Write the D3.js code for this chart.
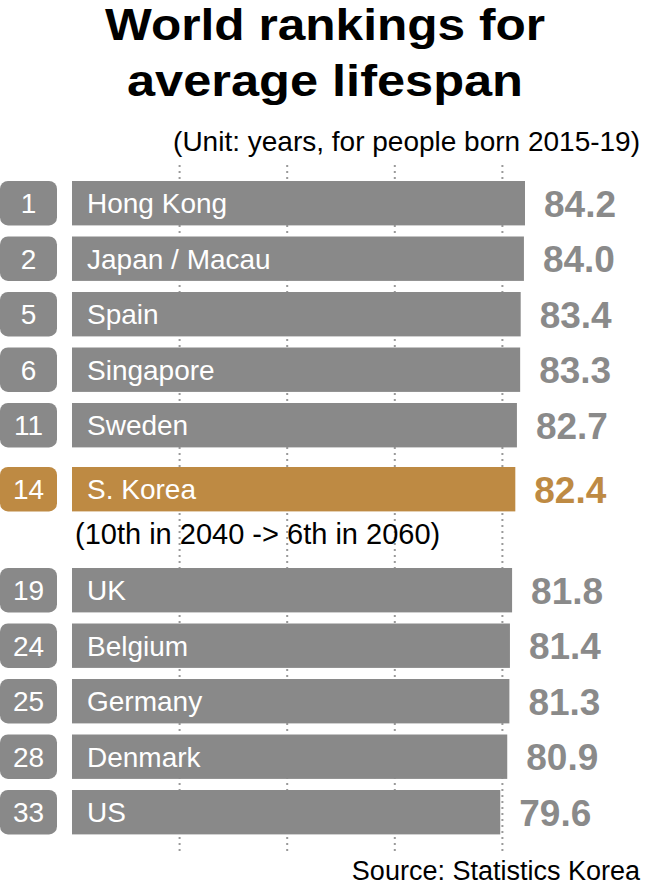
<!DOCTYPE html>
<html>
<head>
<meta charset="utf-8">
<script src="https://cdnjs.cloudflare.com/ajax/libs/d3/7.8.5/d3.min.js"></script>
<style>
  html, body { margin: 0; padding: 0; background: #fff; }
  svg { display: block; font-family: "Liberation Sans", Arial, Helvetica, sans-serif; }
</style>
</head>
<body>
<div id="chart"></div>
<script>
// chart data
var ranks = [1, 2, 5, 6, 11, 14, 19, 24, 25, 28, 33];
var countries = ['Hong Kong', 'Japan / Macau', 'Spain', 'Singapore', 'Sweden', 'S. Korea', 'UK', 'Belgium', 'Germany', 'Denmark', 'US'];
var lifespans = [84.2, 84.0, 83.4, 83.3, 82.7, 82.4, 81.8, 81.4, 81.3, 80.9, 79.6];
var gridTicks = [20, 40, 60, 80];
var highlight = 'S. Korea';

var width = 650, height = 887;
var grey = '#898989', gold = '#be8a43';
var pitch = 55.5, pad = 0.2;

var svg = d3.select('#chart').append('svg')
    .attr('width', width)
    .attr('height', height);

// title
svg.append('text')
    .attr('x', 325).attr('y', 40)
    .attr('text-anchor', 'middle')
    .attr('textLength', 440).attr('lengthAdjust', 'spacingAndGlyphs')
    .style('font-size', '44px').style('font-weight', 'bold')
    .text('World rankings for');
svg.append('text')
    .attr('x', 325).attr('y', 96)
    .attr('text-anchor', 'middle')
    .attr('textLength', 396).attr('lengthAdjust', 'spacingAndGlyphs')
    .style('font-size', '44px').style('font-weight', 'bold')
    .text('average lifespan');

svg.append('text')
    .attr('x', 640).attr('y', 151)
    .attr('text-anchor', 'end')
    .style('font-size', '28px')
    .text('(Unit: years, for people born 2015-19)');

var x = d3.scaleLinear().domain([0, 100]).range([72, 610]);

var yBand = d3.scaleBand()
    .domain(countries)
    .range([181, 181 + pitch * (countries.length - pad)])
    .paddingInner(pad)
    .paddingOuter(0);

var kIdx = countries.indexOf(highlight);
// extra room around the highlighted row for the note under it
var y = function(d) {
    var i = countries.indexOf(d);
    var off = 0;
    if (i === kIdx) off = 8.5;
    else if (i > kIdx) off = 54;
    return yBand(d) + off;
};
var bh = yBand.bandwidth();

// dotted gridlines
svg.append('g').selectAll('line')
    .data(gridTicks)
    .join('line')
    .attr('x1', function(d) { return x(d); })
    .attr('x2', function(d) { return x(d); })
    .attr('y1', 165)
    .attr('y2', 852)
    .attr('stroke', '#9a9a9a')
    .attr('stroke-width', 2)
    .attr('stroke-dasharray', '2,4');

var rows = svg.append('g').selectAll('g')
    .data(countries)
    .join('g')
    .attr('transform', function(d) { return 'translate(0,' + y(d) + ')'; });

var colorOf = function(d) { return d === highlight ? gold : grey; };

rows.append('rect')
    .attr('x', 0).attr('y', 0)
    .attr('width', 57).attr('height', bh)
    .attr('rx', 8).attr('ry', 8)
    .attr('fill', colorOf);

rows.append('text')
    .attr('x', 28.5).attr('y', bh / 2)
    .attr('dy', '0.35em')
    .attr('text-anchor', 'middle')
    .attr('fill', '#fff')
    .style('font-size', '28px')
    .text(function(d, i) { return ranks[i]; });

rows.append('rect')
    .attr('x', x(0)).attr('y', 0)
    .attr('width', function(d, i) { return x(lifespans[i]) - x(0); })
    .attr('height', bh)
    .attr('fill', colorOf);

rows.append('text')
    .attr('x', 87).attr('y', bh / 2)
    .attr('dy', '0.35em')
    .attr('fill', '#fff')
    .style('font-size', '28px')
    .text(function(d) { return d; });

rows.append('text')
    .attr('x', function(d, i) { return x(lifespans[i]) + 19; })
    .attr('y', bh / 2)
    .attr('dy', '0.36em')
    .attr('fill', function(d) { return d === highlight ? gold : '#8a8a8a'; })
    .style('font-size', '37px').style('font-weight', 'bold')
    .text(function(d, i) { return lifespans[i].toFixed(1); });

// note under S. Korea
svg.append('text')
    .attr('x', 75).attr('y', y(highlight) + bh + 33)
    .style('font-size', '29px')
    .text('(10th in 2040 -> 6th in 2060)');

svg.append('text')
    .attr('x', 640).attr('y', 880)
    .attr('text-anchor', 'end')
    .style('font-size', '27px')
    .text('Source: Statistics Korea');
</script>
</body>
</html>
